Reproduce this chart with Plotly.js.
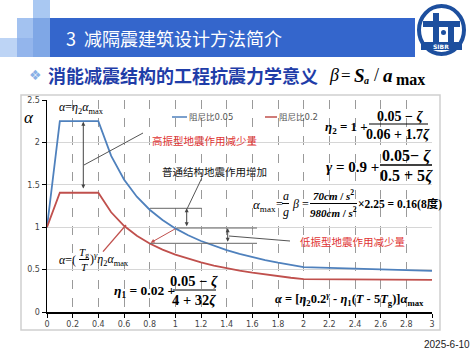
<!DOCTYPE html>
<html><head><meta charset="utf-8">
<script src="https://cdn.plot.ly/plotly-3.0.1.min.js"></script>
<style>html,body{margin:0;padding:0;background:#fff;}#chart{width:474px;height:355px;}</style>
</head><body><div id="chart"></div>
<script>
// ---- data ----
const periodT = [0, 0.1, 0.4, 0.5, 0.6, 0.7, 0.8, 0.9, 1.0, 1.1, 1.2, 1.3, 1.4, 1.5, 1.6, 1.7, 1.8, 1.9, 2.0, 3.0];
const alphaDamp005 = [1.0, 2.25, 2.25, 1.841, 1.562, 1.360, 1.206, 1.085, 0.986, 0.905, 0.837, 0.779, 0.729, 0.685, 0.646, 0.612, 0.581, 0.553, 0.529, 0.484];
const alphaDamp02 = [1.0, 1.406, 1.406, 1.176, 1.017, 0.899, 0.807, 0.735, 0.676, 0.626, 0.584, 0.548, 0.516, 0.488, 0.464, 0.442, 0.422, 0.404, 0.388, 0.380];
const seriesNames = ['阻尼比0.05', '阻尼比0.2'];
const seriesColors = ['#4f81bd', '#c0504d'];
const xTickVals = [0, 0.2, 0.4, 0.6, 0.8, 1, 1.2, 1.4, 1.6, 1.8, 2, 2.2, 2.4, 2.6, 2.8, 3];
const yTickVals = [0, 0.5, 1, 1.5, 2, 2.5];
const slideTitle = '3&nbsp;&nbsp;减隔震建筑设计方法简介';
const subTitle = '消能减震结构的工程抗震力学意义';
const dateText = '2025-6-10';

// ---- geometry helpers (pixel -> paper / data) ----
const L = 47, PW = 385, B = 312, PH = 212;
const px = p => (p - L) / PW;
const py = p => (B - p) / PH;
const dx = p => (p - L) / PW * 3;
const dy = p => (B - p) / PH * 2.5;

const SERIF = 'Liberation Serif, Noto Sans CJK SC, serif';
const CJK = 'Noto Sans CJK SC, sans-serif';

function ann(x, y, text, size, color, family, extra) {
  return Object.assign({xref: 'paper', yref: 'paper', x: px(x), y: py(y), text: text, showarrow: false,
    xanchor: 'left', yanchor: 'middle', font: {size: size, color: color || '#000', family: family || SERIF}}, extra || {});
}
function annC(x, y, text, size, color, family) { return ann(x, y, text, size, color, family, {xanchor: 'center'}); }
function line(x0, y0, x1, y1, color, w) {
  return {type: 'line', xref: 'paper', yref: 'paper', x0: px(x0), y0: py(y0), x1: px(x1), y1: py(y1), line: {color: color, width: w}};
}
function rect(x0, y0, x1, y1, fill, lc, lw, layer) {
  return {type: 'rect', xref: 'paper', yref: 'paper', x0: px(x0), y0: py(y0), x1: px(x1), y1: py(y1), fillcolor: fill,
    line: {color: lc || fill, width: lw === undefined ? 0 : lw}, layer: layer || 'above'};
}
function arrow(x0, y0, x1, y1, color, both) {
  return {xref: 'x', yref: 'y', axref: 'x', ayref: 'y', x: dx(x1), y: dy(y1), ax: dx(x0), ay: dy(y0), text: '',
    showarrow: true, arrowhead: 2, arrowsize: 0.8, arrowwidth: 1, arrowcolor: color, standoff: 0,
    arrowside: both ? 'end+start' : 'end', startarrowhead: 2, startarrowsize: 0.8, startstandoff: 0};
}

const traces = [
  {x: periodT, y: alphaDamp005, name: seriesNames[0], type: 'scatter', mode: 'lines', line: {color: seriesColors[0], width: 1.8}},
  {x: periodT, y: alphaDamp02, name: seriesNames[1], type: 'scatter', mode: 'lines', line: {color: seriesColors[1], width: 1.8}}
];

const shapes = [
  // chart frame
  rect(21, 95, 440, 330, 'rgba(0,0,0,0)', '#cfcfcf', 1.5, 'below'),
  // header decorations
  rect(33, 0, 50, 18, '#a9c8f2'),
  rect(17, 18, 33, 38, '#a3c2f0'),
  rect(33, 18, 50, 57, '#7fa7e6'),
  rect(0, 38, 17, 57, '#bdd4f5'),
  rect(17, 38, 33, 57, '#93b5ec'),
  rect(50, 18, 415, 57, '#3466cc'),
  // logo
  {type: 'circle', xref: 'paper', yref: 'paper', x0: px(419), x1: px(464), y0: py(54), y1: py(6), fillcolor: '#fff', line: {color: '#1d4f9e', width: 4}},
  rect(423, 21, 460, 27, '#1d4f9e'),
  rect(433, 13, 439, 44, '#1d4f9e'),
  rect(448, 21, 454, 44, '#1d4f9e'),
  rect(421, 42, 462, 50, '#1d4f9e'),
  {type: 'circle', xref: 'paper', yref: 'paper', x0: px(441), x1: px(446), y0: py(35), y1: py(30), fillcolor: '#1d4f9e', line: {width: 0}},
  // legend lines
  line(172, 117, 187, 117, seriesColors[0], 1.5),
  line(265, 117, 277, 117, seriesColors[1], 1.5),
  // leader lines
  line(84, 165, 143, 133, '#555', 1),
  line(201.7, 178.3, 187, 209, '#555', 1),
  line(229, 236, 290, 241, '#555', 1),
  line(150, 208.3, 201.7, 208.3, '#666', 1),
  line(176.7, 228, 257, 228, '#666', 1),
  line(150, 243.3, 257, 243.3, '#666', 1),
  line(126, 225, 103, 251.7, seriesColors[1], 1.3),
  // fraction bars
  line(172.7, 290, 216, 290, '#000', 1.2),
  line(369, 124, 428, 124, '#000', 1.2),
  line(380, 165, 432, 165, '#000', 1.4),
  line(282, 203.5, 289, 203.5, '#000', 1),
  line(310, 203.5, 357, 203.5, '#000', 1),
  line(79, 259.5, 89, 259.5, '#000', 1)
];

const annotations = [
  // header
  ann(64, 38, slideTitle, 18, '#fff', CJK),
  ann(440.5, 46.5, '<b>SIBR</b>', 6, '#fff', 'DejaVu Sans', {xanchor: 'center'}),
  ann(27, 75, '❖', 14, '#8ab0e6', 'DejaVu Sans'),
  ann(46, 75, '<b>' + subTitle + '</b>', 18, '#1f3da8', CJK),
  ann(327, 75, '<i>β</i>', 18),
  ann(339, 75, '=', 17),
  ann(352, 75, '<b><i>S</i></b>', 19),
  ann(362, 80, '<b><i>a</i></b>', 10),
  ann(372, 75, '/', 18),
  ann(381, 75, '<b><i>a</i></b>', 19),
  ann(394, 79, '<b>max</b>', 16),
  // axis label
  ann(22, 117, '<i>α</i>', 17),
  // legend
  ann(187, 117, seriesNames[0], 8.5, '#555', 'DejaVu Sans, Noto Sans CJK SC'),
  ann(277, 117, seriesNames[1], 8.5, '#555', 'DejaVu Sans, Noto Sans CJK SC'),
  // chart notes
  ann(57, 108, '<i>α</i>=<i>η</i><sub>2</sub><i>α</i><sub>max</sub>', 12),
  ann(150, 140, '高振型地震作用减少量', 10.5, '#e03333', CJK),
  ann(160, 171, '普通结构地震作用增加', 10.5, '#111', CJK),
  ann(298, 241.5, '低振型地震作用减少量', 10.5, '#e03333', CJK),
  // alpha = (Tg/T)^gamma ...
  ann(57, 259.5, '<i>α</i>=(', 12),
  annC(84, 252.5, '<i>T</i><sub>g</sub>', 11),
  annC(84, 267, '<i>T</i>', 11),
  ann(88, 259.5, ')<sup><i>γ</i></sup><i>η</i><sub>2</sub><i>α</i><sub>max</sub>', 12),
  // eta1
  ann(112, 291, '<b><i>η</i><sub>1</sub> = 0.02 +</b>', 13.5),
  annC(194, 281, '<b>0.05 − <i>ζ</i></b>', 14.5),
  annC(194, 300, '<b>4 + 32<i>ζ</i></b>', 14.5),
  // eta2
  ann(323, 127, '<b><i>η</i><sub>2</sub> = 1 +</b>', 13),
  annC(400, 116, '<b>0.05 − <i>ζ</i></b>', 14),
  annC(398, 134.5, '<b>0.06 + 1.7<i>ζ</i></b>', 14),
  // gamma
  ann(324, 167, '<b><i>γ</i> = 0.9 +</b>', 15),
  annC(406, 156, '<b>0.05− <i>ζ</i></b>', 16),
  annC(406, 175.5, '<b>0.5 + 5<i>ζ</i></b>', 16),
  // alpha max
  ann(251, 205, '<i>α</i><sub>max</sub>', 13),
  ann(274, 204, '=', 12),
  annC(285.5, 196, '<i>a</i>', 12),
  annC(285.5, 211.5, '<i>g</i>', 12),
  ann(290, 204, '<i>β</i> =', 12),
  annC(333.5, 195, '<b><i>70cm</i> / <i>s</i><sup>2</sup></b>', 11),
  annC(333.5, 212, '<b><i>980cm</i> / <i>s</i><sup>2</sup></b>', 11),
  ann(356, 204, '<b>×2.25 = 0.16(8度)</b>', 11.5),
  // bottom formula
  ann(273, 299, '<b><i>α</i> = [<i>η</i><sub>2</sub>0.2<sup><i>γ</i></sup> - <i>η</i><sub>1</sub>(<i>T</i> - 5<i>T</i><sub>g</sub>)]<i>α</i><sub>max</sub></b>', 12.5),
  // date
  ann(422, 344, dateText, 10, '#222', 'Liberation Sans, Arial'),
  // arrows
  arrow(83.3, 190, 83.3, 121.7, '#444', true),
  arrow(186.7, 227.7, 186.7, 208.3, '#444', true),
  arrow(227.7, 243.3, 227.7, 228.3, '#444', true),
  arrow(176.7, 228, 150.7, 242.7, seriesColors[1], false)
];

const layout = {
  width: 474, height: 355,
  margin: {l: L, r: 474 - L - PW, t: B - PH, b: 355 - B},
  paper_bgcolor: '#fff', plot_bgcolor: '#fff',
  showlegend: false,
  xaxis: {range: [0, 3], tickvals: xTickVals, showline: true, linecolor: '#000', linewidth: 1.5,
    ticks: 'outside', ticklen: 4, tickcolor: '#000', showgrid: true, gridcolor: '#9a9a9a', griddash: 'dash', gridwidth: 1,
    zeroline: false, tickfont: {family: 'DejaVu Sans', size: 8, color: '#444'}, fixedrange: true},
  yaxis: {range: [0, 2.5], tickvals: yTickVals, showline: true, linecolor: '#000', linewidth: 1.5,
    ticks: 'outside', ticklen: 4, tickcolor: '#000', showgrid: true, gridcolor: '#d6d6d6', gridwidth: 1,
    zeroline: false, tickfont: {family: 'DejaVu Sans', size: 8, color: '#444'}, fixedrange: true},
  shapes: shapes,
  annotations: annotations
};

Plotly.newPlot('chart', traces, layout, {staticPlot: true, displayModeBar: false});
</script>
</body></html>
